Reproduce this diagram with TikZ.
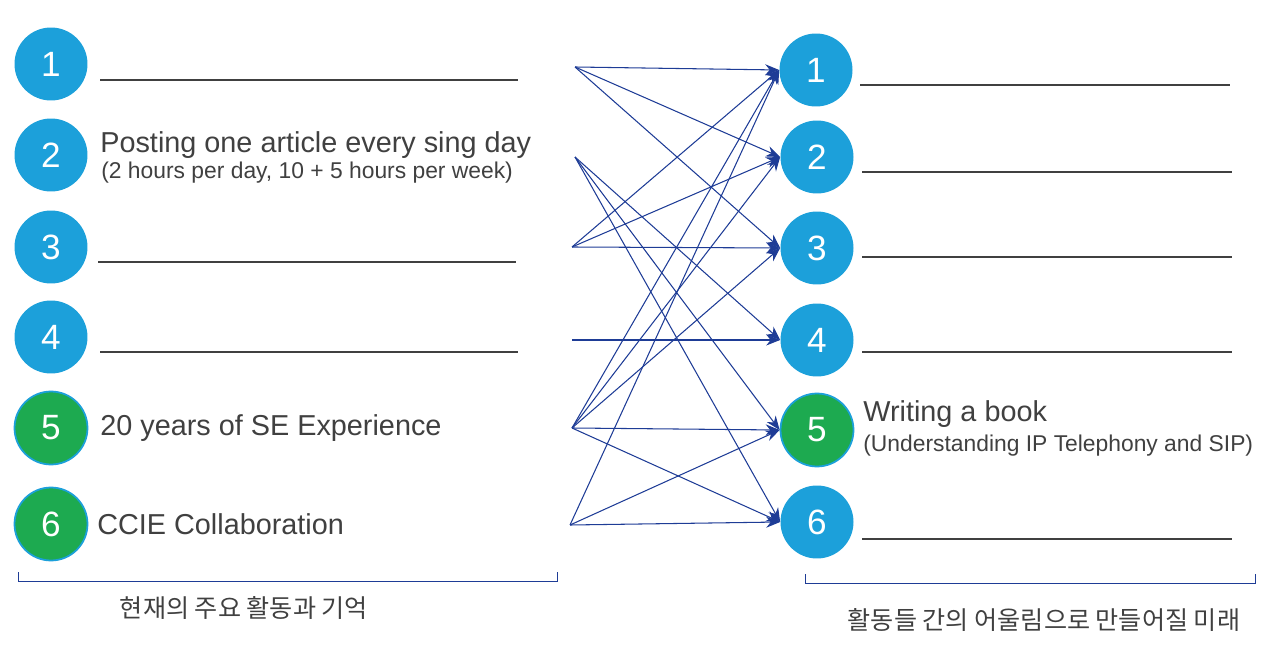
\documentclass[tikz,border=0pt]{standalone}
\usepackage{fontspec}
\setmainfont{Liberation Sans}
\newfontfamily\cjk{Noto Sans CJK KR}
\usetikzlibrary{arrows.meta}
\definecolor{numblue}{RGB}{28,160,218}
\definecolor{numgreen}{RGB}{29,170,80}
\definecolor{linkblue}{RGB}{30,60,150}
\definecolor{txtgray}{RGB}{64,64,64}
\tikzset{
  num/.style={circle, minimum size=1.46cm, inner sep=0pt, fill=numblue, text=white, font=\fontsize{20}{20}\selectfont},
  numg/.style={num, fill=numgreen, draw=numblue, line width=1pt},
  link/.style={linkblue, line width=0.6pt, -{Stealth[length=2.8mm,width=2.2mm]}},
  blank/.style={txtgray, line width=0.9pt},
  lbl/.style={anchor=west, text=txtgray, inner sep=0pt, font=\fontsize{16.4}{16.4}\selectfont},
  sublbl/.style={anchor=west, text=txtgray, inner sep=0pt, font=\fontsize{13}{13}\selectfont}
}
\begin{document}
\begin{tikzpicture}[x=0.02cm,y=-0.02cm]
\useasboundingbox (0,0) rectangle (1280,651);
% left column
\node (l1) at (51,64) [num]{1};
\node (l2) at (51,155) [num]{2};
\node (l3) at (51,247) [num]{3};
\node (l4) at (51,337) [num]{4};
\node (l5) at (51,428) [numg]{5};
\node (l6) at (51,524) [numg]{6};

\draw [blank] (100,80) -- (518,80);
\node (t2) at (100,145) [lbl]{Posting one article every sing day};
\node (t2s) at (101,173) [sublbl]{(2 hours per day, 10 + 5 hours per week)};
\draw [blank] (98,262) -- (516,262);
\draw [blank] (100,352) -- (518,352);
\node (t5) at (100,428) [lbl]{20 years of SE Experience};
\node (t6) at (97,524) [lbl]{CCIE Collaboration};

% right column
\node (r1) at (816,70) [num]{1};
\node (r2) at (817,157) [num]{2};
\node (r3) at (817,248) [num]{3};
\node (r4) at (817,340) [num]{4};
\node (r5) at (817,430) [numg]{5};
\node (r6) at (817,522) [num]{6};

\draw [blank] (860,85) -- (1230,85);
\draw [blank] (862,172) -- (1232,172);
\draw [blank] (862,257) -- (1232,257);
\draw [blank] (862,352) -- (1232,352);
\node (w5) at (863,414) [lbl]{Writing a book};
\node (w5s) at (863,446) [sublbl]{(Understanding IP Telephony and SIP)};
\draw [blank] (862,539) -- (1232,539);

% links
\coordinate (s1) at (575,67);
\coordinate (s2) at (575,157);
\coordinate (s3) at (572,247);
\coordinate (s4) at (572,340);
\coordinate (s5) at (572,428);
\coordinate (s6) at (570,525);
\foreach \a/\b in {s1/r1,s1/r2,s1/r3,s2/r4,s2/r5,s2/r6,s3/r1,s3/r2,s3/r3,s4/r4,
                   s5/r1,s5/r2,s5/r3,s5/r5,s5/r6,s6/r1,s6/r5,s6/r6}
  \draw [link] (\a) -- (\b.west);

% brackets
\draw [linkblue] (18,572) -- (18,581) -- (557,581) -- (557,572);
\node (c1) at (244,608) [text=txtgray, font=\cjk\fontsize{14.3}{14.3}\selectfont]{현재의 주요 활동과 기억};
\draw [linkblue] (805,574) -- (805,583) -- (1255,583) -- (1255,574);
\node (c2) at (1044,620) [text=txtgray, font=\cjk\fontsize{14.3}{14.3}\selectfont]{활동들 간의 어울림으로 만들어질 미래};
\end{tikzpicture}
\end{document}
